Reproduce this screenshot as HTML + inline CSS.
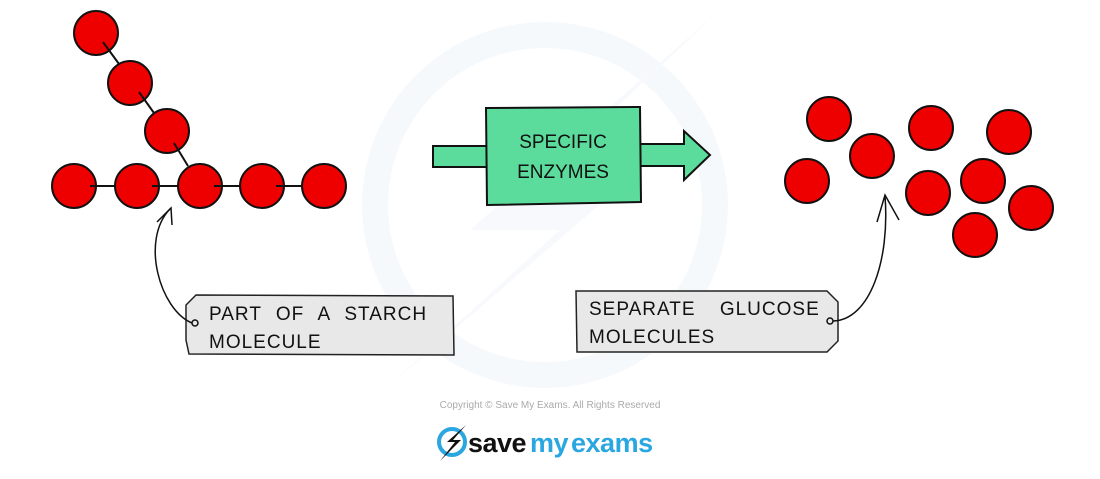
<!DOCTYPE html>
<html><head><meta charset="utf-8"><style>
body{margin:0;background:#fff;width:1100px;height:479px;overflow:hidden}
svg{display:block}
text{font-family:"Liberation Sans",sans-serif}
</style></head><body>
<svg width="1100" height="479" viewBox="0 0 1100 479">
<circle cx="545" cy="205" r="170" fill="none" stroke="#f6f9fc" stroke-width="26"/>
<polygon points="720,10 470,230 560,230 390,385 640,170 550,170" fill="#f7f9fc"/>
<g stroke="#111" stroke-width="2" fill="#ee0000">
<circle cx="96" cy="33" r="22"/><circle cx="130" cy="83" r="22"/><circle cx="167" cy="131" r="22"/>
<circle cx="74" cy="186" r="22"/><circle cx="137" cy="186" r="22"/><circle cx="200" cy="186" r="22"/><circle cx="262" cy="186" r="22"/><circle cx="324" cy="186" r="22"/>
</g>
<g stroke="#111" stroke-width="2">
<line x1="103" y1="42" x2="119" y2="64"/><line x1="139" y1="92" x2="154" y2="113"/><line x1="174" y1="143" x2="188" y2="166"/>
<line x1="90" y1="186" x2="115" y2="186"/><line x1="152" y1="186" x2="178" y2="186"/><line x1="214" y1="186" x2="240" y2="186"/><line x1="276" y1="186" x2="302" y2="186"/>
</g>
<g stroke="#111" stroke-width="2" fill="#ee0000">
<circle cx="829" cy="119" r="22"/><circle cx="872" cy="156" r="22"/><circle cx="931" cy="128" r="22"/><circle cx="1009" cy="132" r="22"/>
<circle cx="807" cy="181" r="22"/><circle cx="928" cy="193" r="22"/><circle cx="983" cy="181" r="22"/><circle cx="1031" cy="208" r="22"/><circle cx="975" cy="235" r="22"/>
</g>
<g stroke="#111" stroke-width="2" fill="#5cdc9c">
<rect x="433" y="146" width="56" height="21"/>
<polygon points="639,144 684,144 684,131 710,155 684,180 684,166 639,166"/>
<polygon points="486,108 640,107 641,202 487,205"/>
</g>
<text x="563" y="148" font-size="19" text-anchor="middle" fill="#111">SPECIFIC</text>
<text x="563" y="178" font-size="19" text-anchor="middle" fill="#111">ENZYMES</text>
<g stroke="#222" stroke-width="1.5" fill="#e8e8e8">
<polygon points="196,295 453,296 454,355 189,354 186,340 186,305"/>
<polygon points="576,291 827,291 838,302 838,341 827,352 577,352"/>
</g>
<text x="209" y="320" font-size="19" fill="#111" letter-spacing="1" word-spacing="8">PART OF A STARCH</text>
<text x="209" y="348" font-size="19" fill="#111" letter-spacing="1">MOLECULE</text>
<text x="589" y="315" font-size="19" fill="#111" letter-spacing="1" word-spacing="18">SEPARATE GLUCOSE</text>
<text x="589" y="343" font-size="19" fill="#111" letter-spacing="1">MOLECULES</text>
<g fill="none" stroke="#111" stroke-width="1.5">
<circle cx="195" cy="323" r="3"/><circle cx="830" cy="321" r="3"/>
<path d="M192,323 C160,310 140,240 170,209"/>
<path d="M157,222 L171,208 L172,225"/>
<path d="M833,321 C870,320 890,260 885,196"/>
<path d="M877,222 L885,195 L899,220"/>
</g>
<text x="550" y="408" font-size="10" fill="#aaa" text-anchor="middle">Copyright © Save My Exams. All Rights Reserved</text>
<circle cx="452" cy="442" r="13" fill="none" stroke="#2aa6e0" stroke-width="4"/>
<polygon points="466,425 447,442 455,442 440,461 461,440 453,440" fill="#111"/>
<text x="468" y="452" font-size="27" font-weight="bold" fill="#111" letter-spacing="-0.5">save</text>
<text x="530" y="452" font-size="27" font-weight="bold" fill="#2aa6e0" letter-spacing="-0.5" word-spacing="-4">my exams</text>
</svg>
</body></html>
